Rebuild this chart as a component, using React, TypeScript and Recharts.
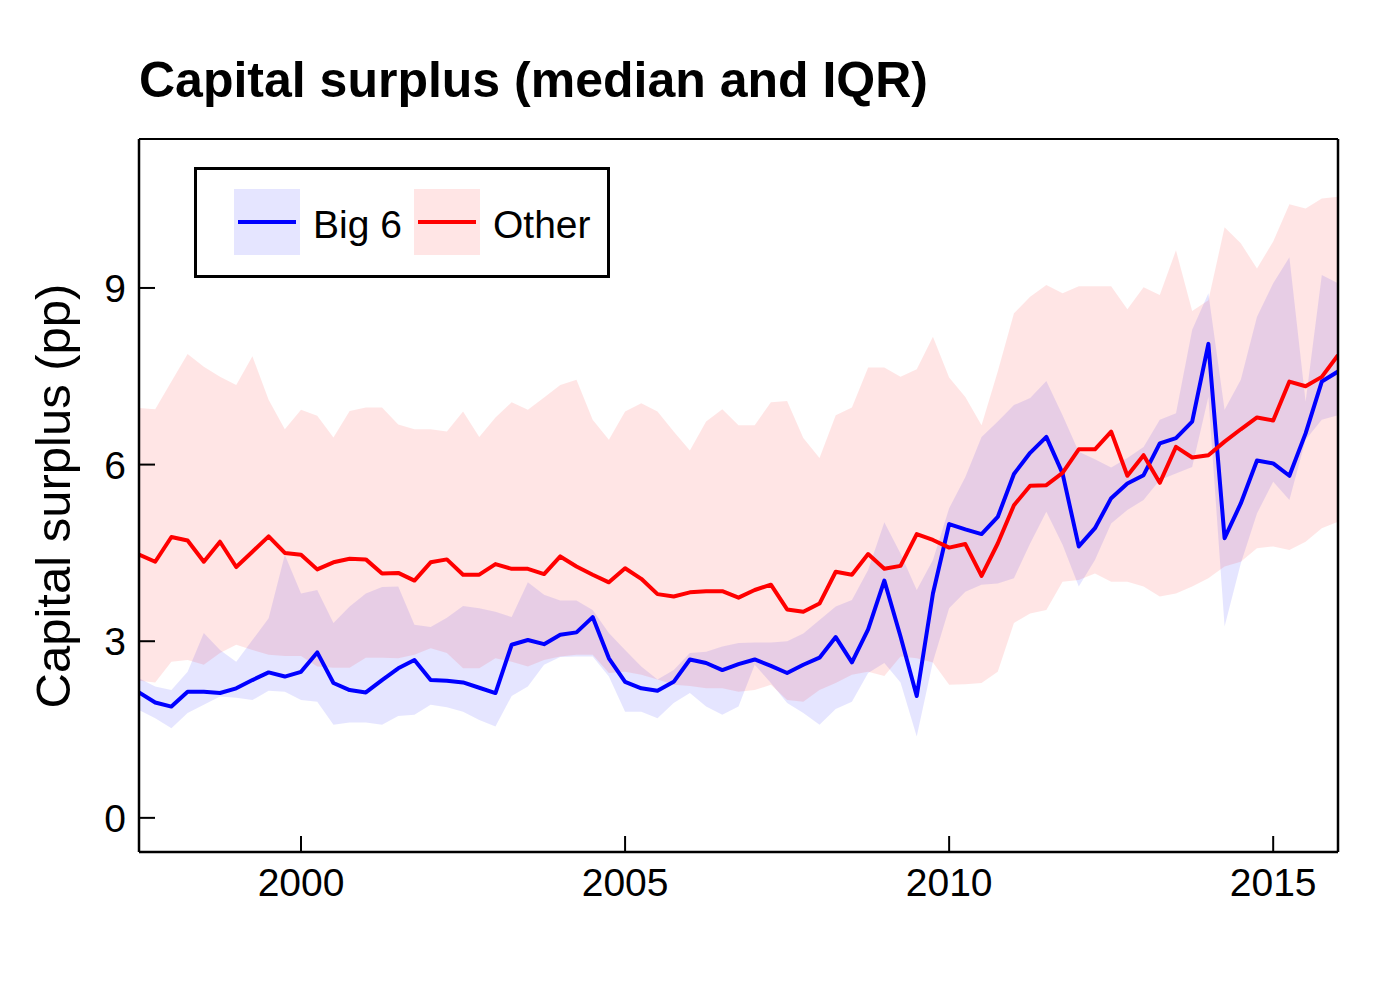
import React from 'react';
import { ComposedChart, Area, Line, XAxis, YAxis, ReferenceLine, Legend } from 'recharts';

// quarterly observations, 1997.5 .. 2016.0
const QUARTERS = Array.from({ length: 75 }, (_, i) => 1997.5 + i * 0.25);

const BIG6_MED = [
  2.13, 1.96, 1.89, 2.14, 2.14, 2.12, 2.20, 2.34, 2.47, 2.40,
  2.48, 2.81, 2.29, 2.17, 2.13, 2.34, 2.54, 2.68, 2.34, 2.33,
  2.30, 2.21, 2.12, 2.94, 3.02, 2.95, 3.11, 3.15, 3.41, 2.71,
  2.31, 2.20, 2.16, 2.31, 2.69, 2.63, 2.51, 2.61, 2.69, 2.58,
  2.46, 2.60, 2.72, 3.07, 2.64, 3.20, 4.03, 3.08, 2.07, 3.81,
  4.99, 4.90, 4.82, 5.11, 5.84, 6.20, 6.47, 5.85, 4.61, 4.92,
  5.43, 5.68, 5.82, 6.36, 6.45, 6.73, 8.05, 4.75, 5.34, 6.07,
  6.02, 5.81, 6.53, 7.41, 7.58,
];
const BIG6_LO = [
  1.83, 1.69, 1.52, 1.78, 1.92, 2.06, 2.04, 2.00, 2.16, 2.14,
  2.00, 1.97, 1.58, 1.62, 1.62, 1.58, 1.73, 1.75, 1.92, 1.88,
  1.80, 1.66, 1.55, 2.07, 2.23, 2.60, 2.73, 2.74, 2.74, 2.40,
  1.80, 1.80, 1.69, 1.95, 2.12, 1.89, 1.75, 1.89, 2.60, 2.29,
  1.95, 1.78, 1.58, 1.85, 1.97, 2.46, 2.63, 2.30, 1.38, 2.65,
  3.56, 3.84, 3.96, 3.98, 4.07, 4.66, 5.20, 4.64, 3.93, 4.38,
  5.00, 5.23, 5.40, 5.74, 5.85, 5.96, 7.15, 3.25, 4.32, 5.17,
  5.71, 5.40, 6.42, 6.76, 6.84,
];
const BIG6_HI = [
  2.37, 2.23, 2.17, 2.48, 3.14, 2.85, 2.65, 3.02, 3.39, 4.47,
  3.81, 3.87, 3.31, 3.59, 3.81, 3.92, 3.93, 3.28, 3.24, 3.40,
  3.60, 3.56, 3.50, 3.41, 4.00, 3.79, 3.69, 3.69, 3.53, 3.14,
  2.85, 2.57, 2.35, 2.51, 2.80, 2.82, 2.91, 2.97, 2.98, 2.98,
  3.00, 3.13, 3.36, 3.59, 3.70, 4.21, 5.02, 4.49, 3.87, 4.38,
  5.26, 5.79, 6.47, 6.73, 7.01, 7.13, 7.42, 6.84, 6.22, 6.09,
  5.95, 6.11, 6.30, 6.76, 6.87, 8.29, 8.91, 6.93, 7.44, 8.51,
  9.08, 9.52, 7.07, 9.22, 9.08,
];

const OTHER_MED = [
  4.47, 4.35, 4.77, 4.71, 4.35, 4.69, 4.26, 4.52, 4.78, 4.50,
  4.47, 4.22, 4.34, 4.40, 4.39, 4.15, 4.16, 4.03, 4.34, 4.39,
  4.13, 4.13, 4.31, 4.23, 4.23, 4.14, 4.44, 4.27, 4.13, 4.00,
  4.24, 4.06, 3.80, 3.76, 3.83, 3.85, 3.85, 3.74, 3.87, 3.96,
  3.54, 3.50, 3.64, 4.18, 4.13, 4.48, 4.23, 4.28, 4.82, 4.72,
  4.59, 4.65, 4.11, 4.66, 5.31, 5.64, 5.65, 5.86, 6.26, 6.26,
  6.56, 5.81, 6.16, 5.69, 6.30, 6.12, 6.16, 6.39, 6.60, 6.80,
  6.75, 7.41, 7.33, 7.49, 7.86,
];
const OTHER_LO = [
  2.33, 2.30, 2.65, 2.68, 2.60, 2.80, 2.94, 2.85, 2.77, 2.75,
  2.75, 2.57, 2.55, 2.55, 2.72, 2.72, 2.71, 2.77, 2.88, 2.80,
  2.54, 2.54, 2.71, 2.65, 2.57, 2.68, 2.74, 2.77, 2.77, 2.46,
  2.48, 2.43, 2.35, 2.26, 2.24, 2.20, 2.20, 2.14, 2.17, 2.26,
  2.00, 1.97, 2.17, 2.29, 2.43, 2.48, 2.41, 2.74, 2.71, 2.64,
  2.26, 2.27, 2.29, 2.48, 3.31, 3.47, 3.53, 4.01, 4.04, 4.15,
  4.01, 4.01, 3.93, 3.76, 3.81, 3.93, 4.07, 4.27, 4.35, 4.58,
  4.61, 4.55, 4.69, 4.92, 5.03,
];
const OTHER_HI = [
  6.96, 6.94, 7.41, 7.88, 7.66, 7.49, 7.35, 7.84, 7.10, 6.60,
  6.93, 6.83, 6.46, 6.91, 6.97, 6.97, 6.68, 6.60, 6.60, 6.56,
  6.90, 6.47, 6.80, 7.06, 6.93, 7.14, 7.35, 7.44, 6.76, 6.42,
  6.90, 7.04, 6.90, 6.56, 6.24, 6.73, 6.94, 6.67, 6.67, 7.06,
  7.08, 6.45, 6.11, 6.84, 6.97, 7.65, 7.65, 7.49, 7.62, 8.17,
  7.48, 7.15, 6.67, 7.58, 8.57, 8.85, 9.05, 8.91, 9.03, 9.03,
  9.03, 8.64, 9.01, 8.88, 9.64, 8.61, 8.79, 10.03, 9.76, 9.33,
  9.79, 10.42, 10.35, 10.52, 10.55,
];

const X_TICKS = [2000, 2005, 2010, 2015];
const Y_TICKS = [0, 3, 6, 9];
const X_DOMAIN = [1997.5, 2016];
const Y_DOMAIN = [-0.58, 11.53];

const FONT = '"Liberation Sans", Arial, Helvetica, sans-serif';

const data = QUARTERS.map((x, i) => ({
  x,
  big6Band: [BIG6_LO[i], BIG6_HI[i]],
  otherBand: [OTHER_LO[i], OTHER_HI[i]],
  big6: BIG6_MED[i],
  other: OTHER_MED[i],
}));

// ticks drawn inward, R style
const YTick = ({ x, y, payload }: any) => (
  <g>
    <line x1={x} x2={x + 16} y1={y} y2={y} stroke="#000" strokeWidth={2} />
    <text x={x - 13} y={y + 14} textAnchor="end" fontSize={39} fontFamily={FONT} fill="#000">
      {payload.value}
    </text>
  </g>
);

const XTick = ({ x, y, payload }: any) => (
  <g>
    <line x1={x} x2={x} y1={y} y2={y - 16} stroke="#000" strokeWidth={2} />
    <text x={x} y={y + 44} textAnchor="middle" fontSize={39} fontFamily={FONT} fill="#000">
      {payload.value}
    </text>
  </g>
);

const LegendBox = () => (
  <svg width={416} height={112} style={{ display: 'block' }}>
    <rect x={1.5} y={1.5} width={413} height={108} fill="#fff" stroke="#000" strokeWidth={3} />
    <rect x={40} y={22} width={66} height={66} fill="#0000ff" fillOpacity={0.1} />
    <line x1={44} x2={102} y1={55} y2={55} stroke="#0000ff" strokeWidth={4} />
    <text x={119} y={71} fontSize={39} fontFamily={FONT} fill="#000">Big 6</text>
    <rect x={220} y={22} width={66} height={66} fill="#ff0000" fillOpacity={0.1} />
    <line x1={224} x2={282} y1={55} y2={55} stroke="#ff0000" strokeWidth={4} />
    <text x={299} y={71} fontSize={39} fontFamily={FONT} fill="#000">Other</text>
  </svg>
);

export default function App() {
  return (
    <div style={{ position: 'absolute', left: 0, top: 0, width: 1400, height: 1000, background: '#fff' }}>
      <ComposedChart
        width={1400}
        height={1000}
        data={data}
        margin={{ top: 139, right: 62, bottom: 118, left: 79 }}
      >
        <XAxis
          type="number"
          dataKey="x"
          domain={X_DOMAIN}
          ticks={X_TICKS}
          interval={0}
          allowDataOverflow
          tickSize={0}
          tickMargin={0}
          tick={<XTick />}
          axisLine={{ stroke: '#000', strokeWidth: 2.5 }}
        />
        <YAxis
          type="number"
          domain={Y_DOMAIN}
          ticks={Y_TICKS}
          interval={0}
          allowDataOverflow
          tickSize={0}
          tickMargin={0}
          tick={<YTick />}
          axisLine={{ stroke: '#000', strokeWidth: 2.5 }}
        />
        <Area
          type="linear"
          dataKey="big6Band"
          stroke="none"
          fill="#0000ff"
          fillOpacity={0.1}
          dot={false}
          activeDot={false}
          isAnimationActive={false}
        />
        <Area
          type="linear"
          dataKey="otherBand"
          stroke="none"
          fill="#ff0000"
          fillOpacity={0.1}
          dot={false}
          activeDot={false}
          isAnimationActive={false}
        />
        <Line
          type="linear"
          dataKey="big6"
          stroke="#0000ff"
          strokeWidth={4}
          strokeLinejoin="round"
          dot={false}
          activeDot={false}
          isAnimationActive={false}
        />
        <Line
          type="linear"
          dataKey="other"
          stroke="#ff0000"
          strokeWidth={4}
          strokeLinejoin="round"
          dot={false}
          activeDot={false}
          isAnimationActive={false}
        />
        <ReferenceLine y={Y_DOMAIN[1]} stroke="#000" strokeWidth={2} ifOverflow="visible" />
        <ReferenceLine x={X_DOMAIN[1]} stroke="#000" strokeWidth={2.5} ifOverflow="visible" />
        <Legend
          layout="vertical"
          align="center"
          verticalAlign="middle"
          content={<LegendBox />}
          wrapperStyle={{ left: 194, top: 167, width: 416, height: 112 }}
        />
      </ComposedChart>
      <svg
        width={1400}
        height={1000}
        style={{ position: 'absolute', left: 0, top: 0, pointerEvents: 'none' }}
      >
        <text x={139} y={97} fontSize={50} fontWeight="bold" fontFamily={FONT} fill="#000">
          Capital surplus (median and IQR)
        </text>
        <text
          transform="translate(70, 496) rotate(-90)"
          textAnchor="middle"
          fontSize={49}
          fontFamily={FONT}
          fill="#000"
        >
          Capital surplus (pp)
        </text>
      </svg>
    </div>
  );
}
